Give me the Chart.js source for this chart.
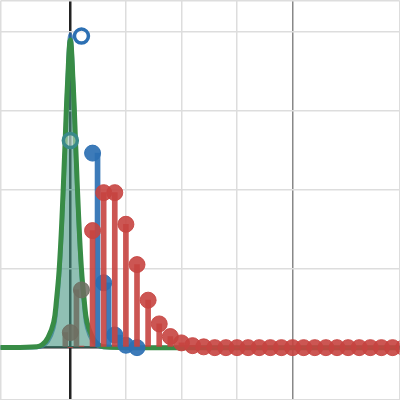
<!DOCTYPE html><html><head><script src="https://cdn.jsdelivr.net/npm/chart.js@4"></script>
<style>html,body{margin:0;padding:0;background:#fff;overflow:hidden}#w{width:420px;height:420px;margin:-10px 0 0 -10px}</style></head><body><div id="w"><canvas id="c"></canvas></div><script>
const curveX=[-1.3,-0.6,-0.5,-0.4,-0.3,-0.25,-0.2,-0.15,-0.1,-0.05,0,0.05,0.1,0.15,0.2,0.25,0.3,0.4,0.5,0.6,1,2,3,4,5,6];
const greenY=[0,0.01,0.04,0.13,0.32,0.6,1.0,1.65,2.5,3.35,3.89,3.35,2.5,1.65,1.0,0.6,0.32,0.13,0.04,0.01,0,0,0,0,0,0];
const blueY=[0,0.005,0.02,0.08,0.25,0.5,0.9,1.55,2.4,3.4,3.96,3.4,2.4,1.55,0.9,0.5,0.25,0.08,0.02,0.005,0,0,0,0,0,0];
const redX=[0,0.2,0.4,0.6,0.8,1.0,1.2,1.4,1.6,1.8,2.0,2.2,2.4,2.6,2.8,3.0,3.2,3.4,3.6,3.8,4.0,4.2,4.4,4.6,4.8,5.0,5.2,5.4,5.6,5.8,6.0];
const redY=[0,0.02,1.48,1.96,1.96,1.56,1.05,0.6,0.3,0.14,0.06,0.025,0.01,0,0,0,0,0,0,0,0,0,0,0,0,0,0,0,0,0,0];
const grayX=[0,0.2];const grayY=[0.19,0.73];
const blueX=[0.4,0.6,0.8,1.0,1.2];const blueV=[2.46,0.82,0.16,0.03,0];
const openX=[0.2,0];const openY=[3.94,2.62];
const pts=(xs,ys)=>xs.map((x,i)=>({x,y:ys[i]}));
const R='rgba(199,68,64,0.9)',B='rgba(45,112,179,0.92)',G='#388c46',GR='rgba(110,111,98,0.85)';
const stem=(xs,ys,col,o)=>({type:'bar',data:pts(xs,ys),backgroundColor:col,barThickness:5,order:o});
const dot=(xs,ys,col,o)=>({type:'scatter',data:pts(xs,ys),backgroundColor:col,borderColor:col,pointRadius:8,pointHoverRadius:8,order:o});
new Chart(document.getElementById('c'),{data:{datasets:[
 {type:'line',data:pts(curveX,greenY),borderColor:G,borderWidth:5,pointRadius:0,tension:0.4,fill:'origin',backgroundColor:'rgba(70,150,130,0.6)',order:8},
 {type:'line',data:pts(curveX,blueY),borderColor:'rgba(45,112,179,0.8)',borderWidth:4,pointRadius:0,tension:0.4,fill:false,order:9},
 stem(blueX,blueV,B,6),dot(blueX,blueV,B,5),
 stem(redX,redY,R,4),dot(redX.slice(2),redY.slice(2),R,3),
 stem(grayX,grayY,GR,2),dot(grayX,grayY,GR,1),
 {type:'scatter',data:pts(openX,openY),backgroundColor:'rgba(255,255,255,0.4)',borderColor:['#2d70b3','#3a8a8a'],borderWidth:3.5,pointRadius:7,order:0}
]},options:{responsive:true,maintainAspectRatio:false,animation:false,layout:{padding:0},
 plugins:{legend:{display:false},tooltip:{enabled:false}},
 scales:{x:{type:'linear',min:-1.257,max:5.925,offset:false,ticks:{display:false,stepSize:1},border:{display:false},
   grid:{drawTicks:false,offset:false,color:c=>c.tick.value===0?'#222':c.tick.value===4?'#888':'#ddd',lineWidth:c=>c.tick.value===0?2.5:1.5}},
  y:{min:-0.656,max:4.39,ticks:{display:false,stepSize:1},border:{display:false},
   grid:{drawTicks:false,color:c=>c.tick.value===0?'#222':'#ddd',lineWidth:c=>c.tick.value===0?2.5:1.5}}}}});
</script></body></html>
